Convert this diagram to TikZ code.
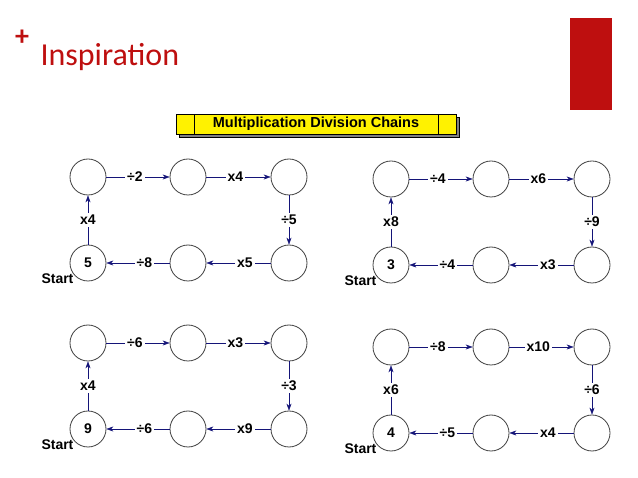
\documentclass[tikz,border=0pt]{standalone}
\usepackage{fontspec}
\setmainfont{Liberation Sans}
\newfontfamily\titlefont{Carlito}
\usetikzlibrary{arrows.meta}
\definecolor{navy}{RGB}{20,20,120}
\definecolor{redbox}{RGB}{190,15,15}
\tikzset{x=1pt,y=1pt,
 ring/.style={circle,draw=black!75,thick,minimum size=36pt,inner sep=0pt,font=\bfseries\fontsize{14}{16}\selectfont},
 link/.style={draw=navy,-{Stealth[length=7pt,width=5pt]}},
 lab/.style={fill=white,inner sep=2pt,font=\bfseries\fontsize{14}{16}\selectfont},
 startlab/.style={font=\bfseries\fontsize{14}{16}\selectfont}}
\newcommand{\chainloop}[8]{%
 \node[ring] (#1tl) at (0,0) {};
 \node[ring] (#1tm) at (100,0) {};
 \node[ring] (#1tr) at (201,0) {};
 \node[ring] (#1bl) at (0,-86) {#2};
 \node[ring] (#1bm) at (100,-86) {};
 \node[ring] (#1br) at (201,-86) {};
 \draw[link] (#1tl) -- node[lab,pos=0.45]{#3} (#1tm);
 \draw[link] (#1tm) -- node[lab,pos=0.45]{#4} (#1tr);
 \draw[link] (#1tr) -- node[lab]{#5} (#1br);
 \draw[link] (#1br) -- node[lab,pos=0.4]{#6} (#1bm);
 \draw[link] (#1bm) -- node[lab,pos=0.4]{#7} (#1bl);
 \draw[link] (#1bl) -- node[lab]{#8} (#1tl);
 \node[startlab,anchor=east,inner sep=0pt] (#1st) at ([xshift=4pt,yshift=-16pt]#1bl.west) {Start};
}
\begin{document}
\begin{tikzpicture}
\useasboundingbox (0,0) rectangle (638,-478);
\node[text=redbox,font=\titlefont\bfseries\fontsize{28}{30}\selectfont] (plus) at (22,-38) {+};
\node[text=redbox,anchor=west,font=\titlefont\fontsize{32}{36}\selectfont] (title) at (37,-57) {Inspiration};
\fill[redbox] (570,-18) rectangle (612,-110);
\draw[fill=black!50] (179,-117) rectangle (459,-137);
\draw[fill=yellow] (176,-114) rectangle (456,-134);
\draw (194,-114) -- (194,-134) (438,-114) -- (438,-134);
\node[font=\bfseries\fontsize{14.5}{16}\selectfont] (mdc) at (316,-124) {Multiplication Division Chains};
\begin{scope}[shift={(88,-177)}]\chainloop{a}{5}{÷2}{x4}{÷5}{x5}{÷8}{x4}\end{scope}
\begin{scope}[shift={(391,-179)}]\chainloop{b}{3}{÷4}{x6}{÷9}{x3}{÷4}{x8}\end{scope}
\begin{scope}[shift={(88,-343)}]\chainloop{c}{9}{÷6}{x3}{÷3}{x9}{÷6}{x4}\end{scope}
\begin{scope}[shift={(391,-347)}]\chainloop{d}{4}{÷8}{x10}{÷6}{x4}{÷5}{x6}\end{scope}
\end{tikzpicture}
\end{document}
